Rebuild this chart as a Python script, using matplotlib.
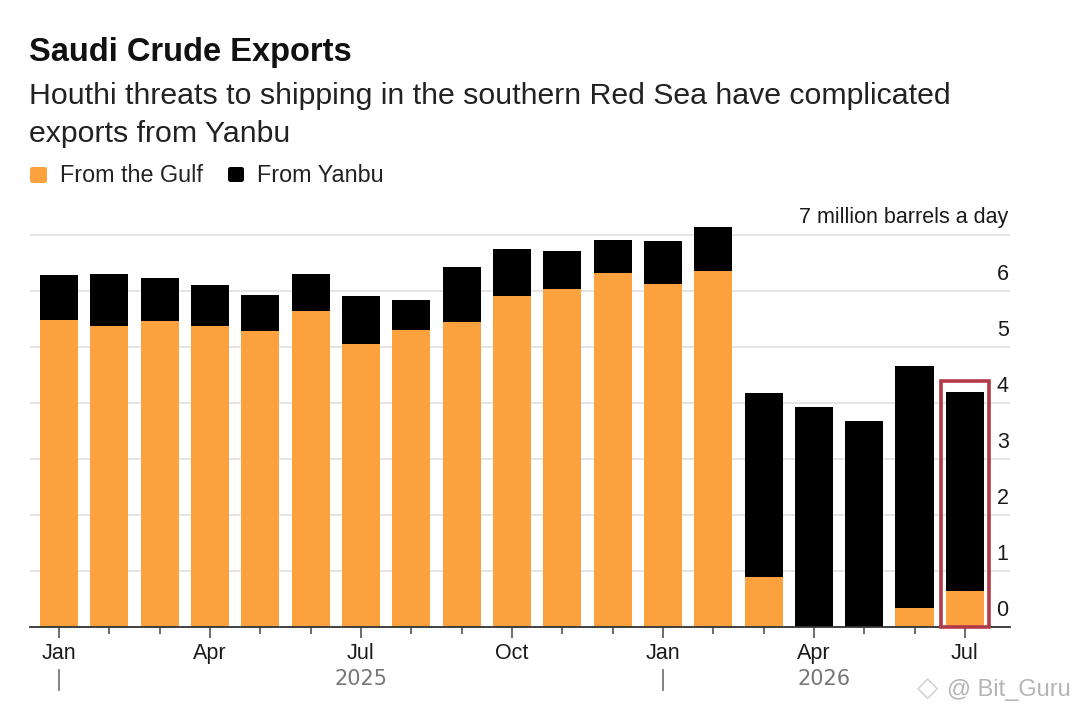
import matplotlib
matplotlib.use("Agg")
import matplotlib.pyplot as plt
from matplotlib.patches import Rectangle, FancyBboxPatch
from matplotlib.transforms import ScaledTranslation, blended_transform_factory

plt.rcParams['font.family'] = ['Liberation Sans', 'DejaVu Sans']

months = ["Jan", "Feb", "Mar", "Apr", "May", "Jun", "Jul", "Aug", "Sep", "Oct", "Nov", "Dec",
          "Jan", "Feb", "Mar", "Apr", "May", "Jun", "Jul"]
gulf = [5.47, 5.37, 5.46, 5.37, 5.28, 5.64, 5.05, 5.30, 5.44, 5.90, 6.03, 6.31,
        6.11, 6.35, 0.88, 0.0, 0.0, 0.33, 0.63]
yanbu = [0.81, 0.93, 0.77, 0.73, 0.64, 0.66, 0.85, 0.53, 0.98, 0.85, 0.67, 0.60,
         0.78, 0.79, 3.29, 3.92, 3.67, 4.32, 3.55]
y_ticks = [0, 1, 2, 3, 4, 5, 6, 7]
y_labels = ["0", "1", "2", "3", "4", "5", "6", "7 million barrels a day"]
year_labels = ["2025", "2026"]

W, H = 1079, 713
ORANGE, BLACK, GRID, RED = "#FBA23F", "#000000", "#DCDCDC", "#B23A48"
fig = plt.figure(figsize=(W / 100, H / 100), dpi=100, facecolor="white")
PX = 206.5  # axes top in pixels from the top of the image
ax = fig.add_axes([30 / W, 1 - 626.5 / H, 980 / W, (626.5 - PX) / H])

x = list(range(len(months)))
ax.bar(x, gulf, width=0.76, color=ORANGE, zorder=3, clip_on=False)
ax.bar(x, yanbu, bottom=gulf, width=0.76, color=BLACK, zorder=3, clip_on=False)

ax.set_xlim(-0.576, 18.895)
ax.set_ylim(0, 7.5)

for s in ["top", "left", "right"]:
    ax.spines[s].set_visible(False)
ax.spines["bottom"].set_color("#333333")
ax.spines["bottom"].set_linewidth(1.3)
ax.spines["bottom"].set_zorder(4)

ax.yaxis.tick_right()
ax.set_yticks(y_ticks)
ax.set_yticklabels(y_labels)
ax.tick_params(axis="y", length=0, pad=-1, labelsize=15.5, labelcolor="#1a1a1a")
ax.grid(axis="y", color=GRID, lw=1.1, zorder=1)
ax.set_axisbelow(True)
offset = ScaledTranslation(0, 6 / 100, fig.dpi_scale_trans)
for lab in ax.get_yticklabels():
    lab.set_ha("right")
    lab.set_va("bottom")
    lab.set_transform(lab.get_transform() + offset)

major = x[::3]
ax.set_xticks(major)
ax.set_xticklabels([months[i] for i in major])
ax.set_xticks([i for i in x if i not in major], minor=True)
ax.tick_params(axis="x", which="major", length=8, width=1.1, color="#444444", pad=4,
               labelsize=15.5, labelcolor="#1a1a1a")
ax.tick_params(axis="x", which="minor", length=5, width=1.1, color="#444444")

# year separators and labels below the month labels
tr = blended_transform_factory(ax.transData, fig.transFigure)
for i in [0, 12]:
    ax.plot([i, i], [1 - 670 / H, 1 - 690 / H], transform=tr, color="#777777", lw=1.3, clip_on=False)
for pos, lab in zip([6, 15.2], year_labels):
    ax.text(pos, 1 - 679 / H, lab, transform=tr, ha="center", va="center", fontsize=15,
            color="#777777", family="DejaVu Sans")

# highlight box around the latest month
ax.add_patch(Rectangle((18 - 0.477, 0), 0.954, 4.38, fill=False, ec=RED, lw=2.6, zorder=5, clip_on=False))


def ftext(px, py, s, **kw):
    fig.text(px / W, 1 - py / H, s, va="center", ha=kw.pop("ha", "left"), **kw)


def swatch(px, py, w, h, color):
    fig.patches.append(FancyBboxPatch((px / 100, (H - py - h) / 100), w / 100, h / 100,
                                      boxstyle="round,pad=0,rounding_size=0.025",
                                      transform=fig.dpi_scale_trans, fc=color, ec="none"))


ftext(29, 53, "Saudi Crude Exports", fontsize=23.5, fontweight="bold", color="#111111")
ftext(29, 96, "Houthi threats to shipping in the southern Red Sea have complicated", fontsize=21.8, color="#222222")
ftext(29, 134, "exports from Yanbu", fontsize=21.8, color="#222222")

swatch(30, 167, 17, 16, ORANGE)
swatch(228, 167, 16, 15, BLACK)
ftext(60, 176, "From the Gulf", fontsize=16.8, color="#222222")
ftext(257, 176, "From Yanbu", fontsize=16.8, color="#222222")

# watermark
fig.text(928 / W, 1 - 688 / H, "◇", fontsize=20, color="#cfcfcf", ha="center", va="center", family="DejaVu Sans")
ftext(947, 690, "@ Bit_Guru", fontsize=17, color="#b5b5b5")

fig.savefig("out.png", dpi=100, facecolor="white")
